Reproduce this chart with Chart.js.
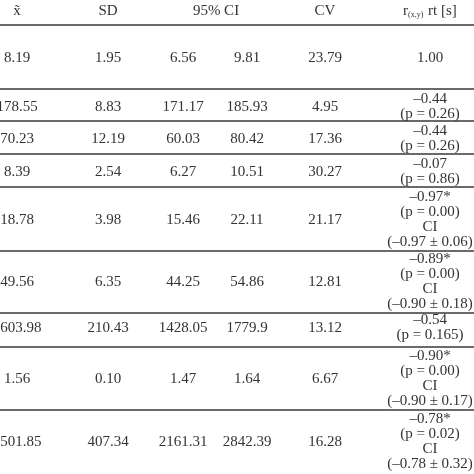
<!DOCTYPE html>
<html><head><meta charset="utf-8">
<script src="https://cdn.jsdelivr.net/npm/chart.js@4.4.0/dist/chart.umd.min.js"></script>
<style>html,body{margin:0;padding:0;background:#fff}#w{width:474px;height:474px}</style>
</head><body><div id="w"><canvas id="c"></canvas></div>
<script>
const headers = ["x̃","SD","95% CI","CV","rt [s]"];
const median = ["8.19","178.55","70.23","8.39","18.78","49.56","1603.98","1.56","2501.85"];
const sd = ["1.95","8.83","12.19","2.54","3.98","6.35","210.43","0.10","407.34"];
const ciLow = ["6.56","171.17","60.03","6.27","15.46","44.25","1428.05","1.47","2161.31"];
const ciHigh = ["9.81","185.93","80.42","10.51","22.11","54.86","1779.9","1.64","2842.39"];
const cv = ["23.79","4.95","17.36","30.27","21.17","12.81","13.12","6.67","16.28"];
const corr = [["1.00"],["–0.44","(p = 0.26)"],["–0.44","(p = 0.26)"],["–0.07","(p = 0.86)"],
 ["–0.97*","(p = 0.00)","CI","(–0.97 ± 0.06)"],["–0.89*","(p = 0.00)","CI","(–0.90 ± 0.18)"],
 ["–0.54","(p = 0.165)"],["–0.90*","(p = 0.00)","CI","(–0.90 ± 0.17)"],["–0.78*","(p = 0.02)","CI","(–0.78 ± 0.32)"]];

// layout (pixels in a 474 coordinate space)
const colX = [17,108,183,247,325,430];
const rowY = [58,107,139,172,220,282,328,379,442];
const lineY = [25,89,121,154,187,251,313,347,410];
const headY = 11;

const tablePlugin = {
  id:'table',
  afterDraw(chart){
    const ctx=chart.ctx, X=chart.scales.x, Y=chart.scales.y;
    const px=v=>X.getPixelForValue(v), py=v=>Y.getPixelForValue(v);
    ctx.save();
    ctx.strokeStyle='#6a6a6a'; ctx.lineWidth=2;
    lineY.forEach(l=>{ctx.beginPath();ctx.moveTo(px(0),py(l));ctx.lineTo(px(474),py(l));ctx.stroke();});
    ctx.fillStyle='#333'; ctx.textAlign='center'; ctx.textBaseline='middle';
    ctx.font='15px "Liberation Serif", serif';
    ctx.fillText(headers[0],px(colX[0]),py(headY));
    ctx.fillText(headers[1],px(colX[1]),py(headY));
    ctx.fillText(headers[2],px(216),py(headY));
    ctx.fillText(headers[3],px(colX[4]),py(headY));
    // r(x,y) rt [s]
    ctx.textAlign='left';
    ctx.fillText('r',px(403),py(headY));
    ctx.font='8px "Liberation Serif", serif';
    ctx.fillText('(x,y)',px(408),py(headY+4));
    ctx.font='15px "Liberation Serif", serif';
    ctx.fillText(headers[4],px(428),py(headY));
    ctx.textAlign='center';
    const cols=[median,sd,ciLow,ciHigh,cv];
    rowY.forEach((y,i)=>{
      cols.forEach((c,j)=>ctx.fillText(c[i],px(colX[j]),py(y)));
      const lines=corr[i], n=lines.length, lh=15;
      lines.forEach((t,k)=>ctx.fillText(t,px(colX[5]),py(y+(k-(n-1)/2)*lh)));
    });
    ctx.restore();
  }
};

new Chart(document.getElementById('c'),{
  type:'scatter',
  data:{datasets:[{data:rowY.map(y=>({x:colX[0],y})),pointRadius:0}]},
  options:{responsive:true,maintainAspectRatio:false,animation:false,
    layout:{padding:0},
    plugins:{legend:{display:false},tooltip:{enabled:false}},
    scales:{x:{type:'linear',min:0,max:474,display:false},
            y:{type:'linear',min:0,max:474,reverse:true,display:false}}},
  plugins:[tablePlugin]
});
</script></body></html>
